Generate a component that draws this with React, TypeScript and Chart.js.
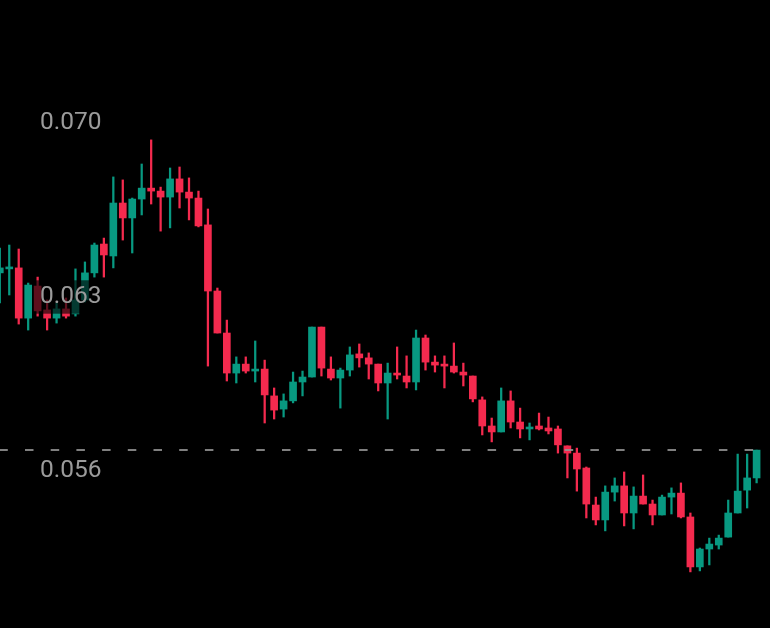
import { useEffect, useRef } from 'react';
import { Chart, registerables } from 'chart.js';

Chart.register(...registerables);

// OHLC prices, one entry per candle (left to right)
const opens = [
  0.06389, 0.06405, 0.06409, 0.06207, 0.06336, 0.06240, 0.06207, 0.06244, 0.06224, 0.06280,
  0.06389, 0.06505, 0.06457, 0.06670, 0.06610, 0.06686, 0.06730, 0.06718, 0.06694, 0.06767,
  0.06714, 0.06690, 0.06582, 0.06316, 0.06147, 0.05986, 0.06022, 0.05994, 0.06002, 0.05894,
  0.05841, 0.05874, 0.05950, 0.05970, 0.06171, 0.06002, 0.05966, 0.05998, 0.06063, 0.06047,
  0.06022, 0.05946, 0.05986, 0.05974, 0.05950, 0.06127, 0.06030, 0.06022, 0.06014, 0.05990,
  0.05974, 0.05878, 0.05773, 0.05749, 0.05874, 0.05789, 0.05761, 0.05773, 0.05765, 0.05761,
  0.05693, 0.05664, 0.05604, 0.05455, 0.05395, 0.05507, 0.05532, 0.05423, 0.05491, 0.05459,
  0.05415, 0.05487, 0.05503, 0.05407, 0.05206, 0.05278, 0.05294, 0.05326, 0.05423, 0.05515,
  0.05564,
];
const highs = [
  0.06489, 0.06501, 0.06485, 0.06348, 0.06372, 0.06280, 0.06268, 0.06288, 0.06405, 0.06433,
  0.06509, 0.06529, 0.06775, 0.06763, 0.06690, 0.06827, 0.06924, 0.06734, 0.06811, 0.06815,
  0.06771, 0.06718, 0.06646, 0.06328, 0.06199, 0.06051, 0.06051, 0.06115, 0.06038, 0.05926,
  0.05902, 0.05990, 0.05994, 0.06171, 0.06171, 0.06051, 0.06006, 0.06091, 0.06103, 0.06067,
  0.06022, 0.06026, 0.06091, 0.06055, 0.06159, 0.06139, 0.06055, 0.06055, 0.06107, 0.06026,
  0.05974, 0.05890, 0.05805, 0.05926, 0.05914, 0.05845, 0.05785, 0.05825, 0.05809, 0.05773,
  0.05693, 0.05684, 0.05608, 0.05487, 0.05532, 0.05564, 0.05588, 0.05528, 0.05576, 0.05475,
  0.05495, 0.05524, 0.05544, 0.05423, 0.05282, 0.05322, 0.05334, 0.05475, 0.05660, 0.05660,
  0.05676,
];
const lows = [
  0.06268, 0.06300, 0.06183, 0.06159, 0.06215, 0.06159, 0.06187, 0.06207, 0.06215, 0.06272,
  0.06372, 0.06372, 0.06409, 0.06521, 0.06469, 0.06622, 0.06666, 0.06557, 0.06570, 0.06650,
  0.06602, 0.06574, 0.06014, 0.06147, 0.05954, 0.05946, 0.05986, 0.05950, 0.05785, 0.05801,
  0.05809, 0.05866, 0.05894, 0.05970, 0.05974, 0.05958, 0.05845, 0.05974, 0.06010, 0.05962,
  0.05914, 0.05801, 0.05962, 0.05926, 0.05918, 0.05998, 0.05990, 0.05926, 0.05986, 0.05934,
  0.05870, 0.05737, 0.05709, 0.05749, 0.05765, 0.05725, 0.05717, 0.05757, 0.05741, 0.05664,
  0.05564, 0.05511, 0.05403, 0.05375, 0.05351, 0.05471, 0.05371, 0.05359, 0.05459, 0.05375,
  0.05415, 0.05419, 0.05403, 0.05186, 0.05190, 0.05214, 0.05278, 0.05326, 0.05423, 0.05443,
  0.05544,
];
const closes = [
  0.06409, 0.06413, 0.06207, 0.06340, 0.06236, 0.06207, 0.06244, 0.06215, 0.06280, 0.06389,
  0.06501, 0.06461, 0.06670, 0.06610, 0.06686, 0.06730, 0.06718, 0.06694, 0.06767, 0.06714,
  0.06690, 0.06578, 0.06316, 0.06147, 0.05986, 0.06022, 0.05994, 0.06002, 0.05898, 0.05837,
  0.05874, 0.05950, 0.05970, 0.06171, 0.06006, 0.05966, 0.05998, 0.06059, 0.06047, 0.06022,
  0.05946, 0.05986, 0.05978, 0.05950, 0.06127, 0.06030, 0.06018, 0.06014, 0.05990, 0.05978,
  0.05882, 0.05773, 0.05749, 0.05874, 0.05789, 0.05761, 0.05769, 0.05761, 0.05753, 0.05697,
  0.05664, 0.05600, 0.05459, 0.05395, 0.05507, 0.05532, 0.05423, 0.05491, 0.05459, 0.05415,
  0.05487, 0.05503, 0.05407, 0.05206, 0.05278, 0.05298, 0.05322, 0.05423, 0.05511, 0.05564,
  0.05676,
];

// price labels on the axis
const yTickValues = [0.056, 0.063, 0.07];

const UP = '#089981';
const DOWN = '#f42a4e';

const lastPriceLine = {
  id: 'lastPriceLine',
  afterDatasetsDraw(chart: any) {
    const { ctx, chartArea, scales } = chart;
    const y = scales.y.getPixelForValue(closes[closes.length - 1]);
    ctx.save();
    ctx.strokeStyle = 'rgba(150,150,150,0.85)';
    ctx.lineWidth = 2;
    ctx.setLineDash([8.5, 17.2]);
    ctx.lineDashOffset = 0.7;
    ctx.beginPath();
    ctx.moveTo(chartArea.left, y);
    ctx.lineTo(chartArea.right, y);
    ctx.stroke();
    ctx.restore();
  },
};

export default function App() {
  const canvasRef = useRef<HTMLCanvasElement | null>(null);

  useEffect(() => {
    document.body.style.margin = '0';
    document.body.style.background = '#000';
    const canvas = canvasRef.current;
    if (!canvas) return;

    const colors = opens.map((o, i) => (closes[i] >= o ? UP : DOWN));
    const bodies = opens.map((o, i) => ({
      x: i,
      y: [Math.min(o, closes[i]), Math.max(o, closes[i])],
    }));
    const wicks = opens.map((_, i) => ({ x: i, y: [lows[i], highs[i]] }));

    const chart = new Chart(canvas, {
      type: 'bar',
      data: {
        datasets: [
          {
            label: 'body',
            data: bodies as any,
            backgroundColor: colors,
            barThickness: 7,
            minBarLength: 1.5,
            grouped: false,
            borderWidth: 0,
          } as any,
          {
            label: 'wick',
            data: wicks as any,
            backgroundColor: colors,
            barThickness: 1.6,
            grouped: false,
            borderWidth: 0,
          } as any,
        ],
      },
      options: {
        animation: false,
        responsive: false,
        layout: { padding: 0 },
        plugins: {
          legend: { display: false },
          tooltip: { enabled: false },
        },
        scales: {
          x: {
            type: 'linear',
            display: false,
            offset: false,
            min: 0.0211,
            max: 81.416,
          },
          y: {
            type: 'linear',
            position: 'left',
            min: 0.049603,
            max: 0.0748678,
            beginAtZero: false,
            afterFit: (s: any) => {
              s.width = 0;
              s.paddingTop = 0;
              s.paddingBottom = 0;
              s.paddingLeft = 0;
              s.paddingRight = 0;
            },
            afterBuildTicks: (s: any) => {
              s.ticks = yTickValues.map((v) => ({ value: v }));
            },
            grid: { display: false, drawTicks: false },
            border: { display: false },
            ticks: {
              z: 1,
              mirror: true,
              padding: 40,
              labelOffset: 2,
              color: '#9b9b9b',
              font: { family: 'Roboto', size: 24.5 },
              showLabelBackdrop: true,
              backdropColor: 'rgba(0,0,0,0.62)',
              backdropPadding: { top: 2, bottom: 2, left: 8, right: 6 },
              callback: (v: any) => Number(v).toFixed(3),
            },
          } as any,
        },
      },
      plugins: [lastPriceLine],
    });

    return () => chart.destroy();
  }, []);

  return (
    <div style={{ position: 'fixed', left: 0, top: 0, width: 770, height: 628, background: '#000' }}>
      <canvas ref={canvasRef} width={770} height={628} style={{ display: 'block' }} />
    </div>
  );
}
